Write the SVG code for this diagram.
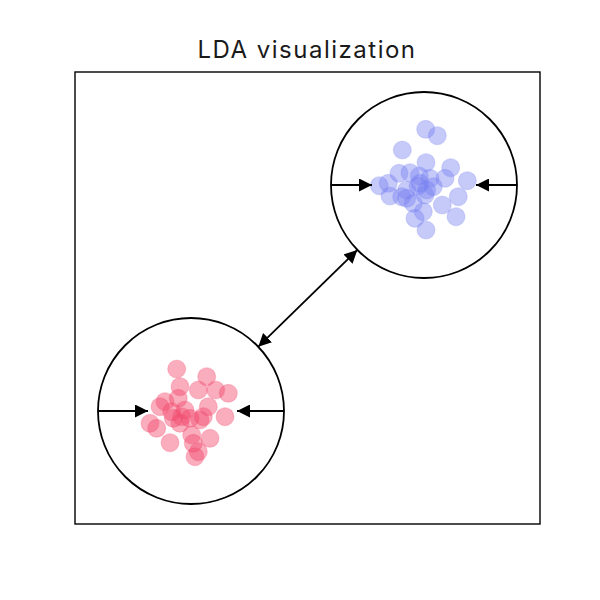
<svg xmlns="http://www.w3.org/2000/svg" width="600" height="600" viewBox="0 0 600 600">
<style>
.title{font-family:"Inter","Noto Sans","DejaVu Sans",sans-serif;font-size:24px;letter-spacing:1.5px;fill:#1a1a1a}
.frame{fill:none;stroke:#000;stroke-width:1.4}
.ring{fill:none;stroke:#000;stroke-width:1.8}
.conn{fill:none;stroke:#000;stroke-width:1.8}
.b circle{fill:#7880f0;fill-opacity:0.42;stroke:#7880f0;stroke-opacity:0.22;stroke-width:1.2}
.r circle{fill:#f24a6c;fill-opacity:0.45;stroke:#f24a6c;stroke-opacity:0.22;stroke-width:1.2}
</style>
<defs>
<marker id="ah" viewBox="0 0 12 12" refX="12" refY="6" markerWidth="13" markerHeight="13" markerUnits="userSpaceOnUse" orient="auto-start-reverse">
<path d="M0,0 L12,6 L0,12 Z" fill="#000"/>
</marker>
</defs>
<rect width="600" height="600" fill="#fff"/>
<text class="title" x="307" y="58" text-anchor="middle">LDA visualization</text>
<rect class="frame" x="75" y="72" width="465" height="452"/>

<g id="cluster-blue" class="b">
<circle cx="425.7" cy="129.3" r="9"/>
<circle cx="437.3" cy="135.7" r="9"/>
<circle cx="402.3" cy="150" r="9"/>
<circle cx="426" cy="162.7" r="9"/>
<circle cx="450.7" cy="167.7" r="9"/>
<circle cx="399" cy="173.3" r="9"/>
<circle cx="410" cy="172.7" r="9"/>
<circle cx="419.3" cy="176" r="9"/>
<circle cx="430" cy="178.3" r="9"/>
<circle cx="445" cy="178.3" r="9"/>
<circle cx="467.3" cy="180.7" r="9"/>
<circle cx="379.3" cy="185.7" r="9"/>
<circle cx="388.3" cy="183.3" r="9"/>
<circle cx="420" cy="183.3" r="9"/>
<circle cx="426.7" cy="190" r="9"/>
<circle cx="458.3" cy="196.7" r="9"/>
<circle cx="390" cy="196" r="9"/>
<circle cx="401.7" cy="196.7" r="9"/>
<circle cx="406.7" cy="198.3" r="9"/>
<circle cx="413.3" cy="203.3" r="9"/>
<circle cx="425" cy="195" r="9"/>
<circle cx="442.3" cy="205" r="9"/>
<circle cx="423.3" cy="211.7" r="9"/>
<circle cx="415" cy="218.3" r="9"/>
<circle cx="456" cy="216.7" r="9"/>
<circle cx="426" cy="230" r="9"/>
<circle cx="433.3" cy="186.7" r="9"/>
<circle cx="406.7" cy="190" r="9"/>
<circle cx="418" cy="186" r="9"/>
</g>

<g id="cluster-red" class="r">
<circle cx="176.7" cy="369" r="9"/>
<circle cx="206.7" cy="376.7" r="9"/>
<circle cx="180" cy="386.7" r="9"/>
<circle cx="198.3" cy="390" r="9"/>
<circle cx="215.7" cy="390" r="9"/>
<circle cx="228.3" cy="393.3" r="9"/>
<circle cx="178.3" cy="398.3" r="9"/>
<circle cx="165" cy="401.7" r="9"/>
<circle cx="160" cy="406.7" r="9"/>
<circle cx="208.3" cy="406.7" r="9"/>
<circle cx="225" cy="416.7" r="9"/>
<circle cx="150" cy="423.3" r="9"/>
<circle cx="156.7" cy="428.3" r="9"/>
<circle cx="173.3" cy="418.3" r="9"/>
<circle cx="181.7" cy="416.7" r="9"/>
<circle cx="190" cy="418.3" r="9"/>
<circle cx="200" cy="420" r="9"/>
<circle cx="180" cy="423.3" r="9"/>
<circle cx="191.7" cy="435" r="9"/>
<circle cx="210" cy="438.3" r="9"/>
<circle cx="170" cy="442.7" r="9"/>
<circle cx="193.3" cy="443.3" r="9"/>
<circle cx="198.3" cy="451.7" r="9"/>
<circle cx="195" cy="456.7" r="9"/>
<circle cx="171.7" cy="411.7" r="9"/>
<circle cx="185" cy="410" r="9"/>
<circle cx="203.3" cy="416.7" r="9"/>
</g>

<g id="boundary-blue"><circle class="ring" cx="424" cy="185" r="93"/></g>
<g id="boundary-red"><circle class="ring" cx="191" cy="411" r="93"/></g>

<g id="connectors">
<line class="conn" x1="331" y1="185" x2="372" y2="185" marker-end="url(#ah)"/>
<line class="conn" x1="517" y1="185" x2="476" y2="185" marker-end="url(#ah)"/>
<line class="conn" x1="98" y1="411" x2="148" y2="411" marker-end="url(#ah)"/>
<line class="conn" x1="284" y1="411" x2="237" y2="411" marker-end="url(#ah)"/>
<line class="conn" x1="258.3" y1="346.7" x2="357.3" y2="250" marker-start="url(#ah)" marker-end="url(#ah)"/>
</g>
</svg>
